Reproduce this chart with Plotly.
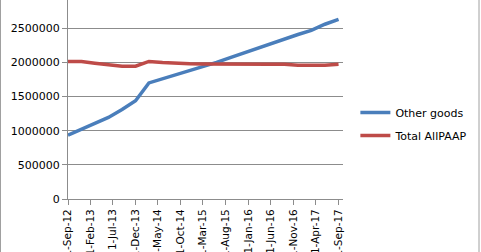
import plotly.graph_objects as go

dates = ["2012-09-01", "2012-12-01", "2013-03-01", "2013-06-01", "2013-09-01", "2013-12-01",
         "2014-03-01", "2014-06-01", "2014-09-01", "2014-12-01", "2015-03-01", "2015-06-01",
         "2015-09-01", "2015-12-01", "2016-03-01", "2016-06-01", "2016-09-01", "2016-12-01",
         "2017-03-01", "2017-06-01", "2017-09-01"]
other_goods = [935000, 1020000, 1110000, 1195000, 1310000, 1440000,
               1700000, 1760000, 1810000, 1870000, 1930000, 2000000,
               2070000, 2140000, 2200000, 2280000, 2350000, 2410000,
               2470000, 2560000, 2630000]
total_allpaap = [2015000, 2015000, 1990000, 1965000, 1945000, 1945000,
                 2015000, 2000000, 1985000, 1980000, 1978000, 1975000,
                 1975000, 1975000, 1975000, 1975000, 1975000, 1960000,
                 1958000, 1960000, 1975000]
tick_dates = ["2012-09-01", "2013-02-01", "2013-07-01", "2013-12-01", "2014-05-01", "2014-10-01",
              "2015-03-01", "2015-08-01", "2016-01-01", "2016-06-01", "2016-11-01", "2017-04-01",
              "2017-09-01"]
tick_labels = ["1-Sep-12", "1-Feb-13", "1-Jul-13", "1-Dec-13", "1-May-14", "1-Oct-14",
               "1-Mar-15", "1-Aug-15", "1-Jan-16", "1-Jun-16", "1-Nov-16", "1-Apr-17",
               "1-Sep-17"]
y_ticks = [0, 500000, 1000000, 1500000, 2000000, 2500000]

fig = go.Figure()
fig.add_trace(go.Scatter(x=dates, y=other_goods, mode="lines", name="Other goods",
                         legendgroup="a", line=dict(color="#4A7EBB", width=3.5)))
fig.add_trace(go.Scatter(x=dates, y=total_allpaap, mode="lines", name="Total AllPAAP",
                         legendgroup="b", line=dict(color="#BE4B48", width=3.5)))

grid = "#8C8C8C"
fig.update_layout(
    width=481, height=252,
    margin=dict(l=68, r=138, t=0, b=53),
    paper_bgcolor="white", plot_bgcolor="white",
    font=dict(family="DejaVu Sans", size=11, color="#000000"),
    showlegend=True,
    legend=dict(x=1.045, y=0.377, xanchor="left", yanchor="middle",
                font=dict(size=11), tracegroupgap=4, bgcolor="rgba(0,0,0,0)"),
    xaxis=dict(type="date", range=["2012-09-01", "2017-10-01"], automargin=False,
               tickvals=tick_dates, ticktext=tick_labels, tickangle=-90,
               tickfont=dict(size=10.5),
               showgrid=False, showline=True, linecolor=grid, linewidth=1,
               ticks="outside", ticklen=5, tickcolor=grid, zeroline=False),
    yaxis=dict(range=[0, 2915000], tickvals=y_ticks, ticktext=[str(v) for v in y_ticks],
               automargin=False,
               showgrid=True, gridcolor=grid, gridwidth=1,
               showline=True, linecolor=grid, linewidth=1,
               ticks="outside", ticklen=5, tickcolor=grid, zeroline=False),
)
fig.add_shape(type="line", xref="paper", yref="paper", x0=(479 - 68) / 275, x1=(479 - 68) / 275,
              y0=-1, y1=1.1, line=dict(color="#A0A0A0", width=1))
fig.add_shape(type="line", xref="paper", yref="paper", x0=-67.5 / 275, x1=-67.5 / 275,
              y0=-1, y1=1.1, line=dict(color="#A0A0A0", width=1))
fig.write_html("out.html")
